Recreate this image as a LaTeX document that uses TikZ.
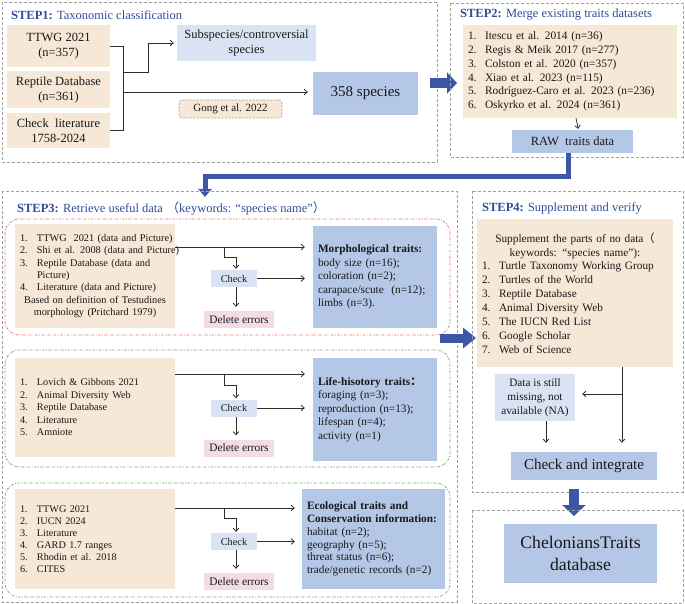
\documentclass[tikz,border=0pt]{standalone}
\usepackage{fontspec}
\setmainfont{Liberation Serif}
\newfontfamily\cjk{Noto Sans CJK SC}
\usetikzlibrary{arrows.meta}
\definecolor{beige}{RGB}{246,231,214}
\definecolor{lblue}{RGB}{218,227,243}
\definecolor{mblue}{RGB}{180,199,231}
\definecolor{pinkc}{RGB}{243,220,227}
\definecolor{dblue}{RGB}{59,87,166}
\definecolor{tblue}{RGB}{47,75,155}
\definecolor{framegray}{RGB}{160,160,160}
\definecolor{redd}{RGB}{226,112,82}
\definecolor{greend}{RGB}{104,164,96}
\definecolor{linec}{RGB}{45,45,45}
\definecolor{txt}{RGB}{25,25,25}
\newcommand\fs[2]{\fontsize{#1}{#2}\selectfont}
\newcommand\itm[2]{\mbox{\makebox[17pt][l]{#1}#2}}
\begin{document}
\begin{tikzpicture}[x=1pt,y=-1pt,
  frame/.style={draw=framegray,line width=0.8pt,dash pattern=on 3pt off 2pt},
  panelred/.style={draw=redd,line width=0.7pt,rounded corners=14pt,dash pattern=on 2.5pt off 1.5pt on 0.8pt off 1.5pt},
  panelgreen/.style={panelred,draw=greend},
  title/.style={anchor=west,inner sep=0pt,text=tblue,font=\fs{12.5}{15}},
  box/.style={inner sep=0pt,align=center,text=txt},
  listbox/.style={inner xsep=5pt,inner ysep=0pt,align=left,text=txt},
  ln/.style={draw=linec,line width=0.8pt},
  arr/.style={ln,-{Straight Barb[length=3pt,width=5.5pt]}},
  fat/.style={draw=dblue,line width=#1,line join=miter},
  chk/.style={box,fill=lblue,minimum width=46pt,minimum height=17pt,font=\fs{10.3}{12}},
  del/.style={box,fill=pinkc,minimum width=70pt,minimum height=17pt,font=\fs{11.4}{13}},
  trait/.style={listbox,fill=mblue,font=\fs{11.3}{13.5}}
]
\useasboundingbox (0,0) rectangle (685,604);

% ---------------- STEP1
\draw[frame] (2,2) rectangle (437,162);
\node[title] (t1) at (11,15) {\textbf{STEP1:} Taxonomic classification};
\node[box,fill=beige,minimum width=103pt,minimum height=42pt,font=\fs{12.5}{15}] (ttwg) at (58.5,46) {TTWG 2021\\(n=357)};
\node[box,fill=beige,minimum width=103pt,minimum height=37pt,font=\fs{12.5}{15}] (rdb) at (58.5,89.5) {Reptile Database\\(n=361)};
\node[box,fill=beige,minimum width=103pt,minimum height=35pt,font=\fs{12.5}{15}] (lit) at (58.5,130.5) {Check\ \ literature\\1758-2024};
\node[box,fill=lblue,minimum width=139pt,minimum height=36pt,font=\fs{12.5}{15}] (subsp) at (246.5,43) {Subspecies/controversial\\species};
\node[box,fill=mblue,minimum width=105pt,minimum height=43pt,font=\fs{15}{18}] (sp) at (365.5,93.5) {358 species};
\node[box,fill=beige,draw=framegray,line width=0.6pt,dash pattern=on 2pt off 1.5pt,rounded corners=3pt,minimum width=103pt,minimum height=18pt,font=\fs{11}{13}] (gong) at (230.5,109) {Gong et al. 2022};
\coordinate (j1) at (123,92);
\coordinate (j2) at (123,72);
\draw[ln] (ttwg.east) -- (ttwg.east -| j1) -- (lit.east -| j1) -- (lit.east);
\draw[arr,shorten >=5pt] (j1) -- (sp.west |- j1);
\draw[arr,shorten >=3pt] (j2) -- ++(25,0) |- (subsp.west);
\coordinate (f1a) at (430,83);
\coordinate (f1b) at (457,83);
\draw[fat=10pt,-{Triangle[length=10pt,width=21pt]}] (f1a) -- (f1b);

% ---------------- STEP2
\draw[frame] (450,3) rectangle (683,157);
\node[title] (t2) at (460,15) {\textbf{STEP2:} Merge existing traits datasets};
\node[listbox,fill=beige,text width=204pt,minimum height=93pt,font=\fs{11.4}{13.7}] (ds) at (570,71.5)
 {\itm{1.}{Itescu et al. 2014 (n=36)}\\
  \itm{2.}{Regis \& Meik 2017 (n=277)}\\
  \itm{3.}{Colston et al. 2020 (n=357)}\\
  \itm{4.}{Xiao et al. 2023 (n=115)}\\
  \itm{5.}{Rodríguez-Caro et al. 2023 (n=236)}\\
  \itm{6.}{Oskyrko et al. 2024 (n=361)}};
\node[box,fill=mblue,minimum width=121pt,minimum height=23pt,font=\fs{12.5}{15}] (raw) at (572.5,141.5) {RAW\ \ traits data};
\draw[arr,shorten >=1pt] ([xshift=6pt]ds.south) -- ([xshift=6pt]raw.north);
\coordinate (bend) at (205,177);
\draw[fat=5pt,-{Triangle[length=8pt,width=13pt]}] ([xshift=-4pt]raw.south) |- (bend) -- ++(0,20);

% ---------------- STEP3
\draw[frame] (2,191) rectangle (457,602);
\node[title] (t3) at (17,208) {\textbf{STEP3:} Retrieve useful data\hspace{0.3em}{\cjk （}keywords: “species name”{\cjk ）}};

% panel A
\draw[panelred] (5,219) rectangle (450,335);
\node[listbox,fill=beige,text width=150pt,minimum height=104pt,font=\fs{10.3}{12.3}] (la) at (95,276)
 {\itm{1.}{TTWG\ \ 2021 (data and Picture)}\\
  \itm{2.}{Shi et al. 2008 (data and Picture)}\\
  \itm{3.}{Reptile Database (data and}\\
  \itm{}{Picture)}\\
  \itm{4.}{Literature (data and Picture)}\\
  \makebox[150pt]{Based on definition of Testudines}\\
  \makebox[150pt]{morphology (Pritchard 1979)}};
\node[chk] (ca) at (234,278.5) {Check};
\node[del] (da) at (239,319.5) {Delete errors};
\node[trait,text width=114pt,minimum height=102pt] (ma) at (375,277)
 {\textbf{Morphological traits:}\\
  body size (n=16);\\
  coloration (n=2);\\
  \mbox{carapace/scute\ \ (n=12);}\\
  limbs (n=3).};
\coordinate (ba) at (224,247);
\draw[arr,shorten >=8pt] (la.east |- ba) -- (ma.west |- ba);
\draw[arr,shorten >=1pt] (ba) -- ++(0,10) -| ([xshift=2pt]ca.north);
\draw[arr,shorten >=8pt] (ca.east) -- (ca.east -| ma.west);
\draw[arr,shorten >=4pt] ([xshift=2pt]ca.south) -- ([xshift=2pt]ca.south |- da.north);

% panel B
\draw[panelgreen] (5,350) rectangle (450,467);
\node[listbox,fill=beige,text width=150pt,minimum height=99pt,font=\fs{10.2}{12.5}] (lb) at (95,407.5)
 {\itm{1.}{Lovich \& Gibbons 2021}\\
  \itm{2.}{Animal Diversity Web}\\
  \itm{3.}{Reptile Database}\\
  \itm{4.}{Literature}\\
  \itm{5.}{Amniote}};
\node[chk] (cb) at (234,408) {Check};
\node[del] (db) at (239,448) {Delete errors};
\node[trait,text width=114pt,minimum height=103pt] (mb) at (375,409.5)
 {\textbf{Life-hisotory traits{\cjk ：}}\\
  foraging (n=3);\\
  reproduction (n=13);\\
  lifespan (n=4);\\
  activity (n=1)};
\coordinate (bb) at (224,374);
\draw[arr,shorten >=8pt] (lb.east |- bb) -- (mb.west |- bb);
\draw[arr,shorten >=1pt] (bb) -- ++(0,11) -| ([xshift=2pt]cb.north);
\draw[arr,shorten >=8pt] (cb.east) -- (cb.east -| mb.west);
\draw[arr,shorten >=4pt] ([xshift=2pt]cb.south) -- ([xshift=2pt]cb.south |- db.north);

% panel C
\draw[panelgreen] (5,483) rectangle (450,597);
\node[listbox,fill=beige,text width=150pt,minimum height=100pt,font=\fs{10.2}{12}] (lc) at (95,539)
 {\itm{1.}{TTWG 2021}\\
  \itm{2.}{IUCN 2024}\\
  \itm{3.}{Literature}\\
  \itm{4.}{GARD 1.7 ranges}\\
  \itm{5.}{Rhodin et al. 2018}\\
  \itm{6.}{CITES}};
\node[chk] (cc) at (234,541.5) {Check};
\node[del] (dc) at (239,581.5) {Delete errors};
\node[trait,text width=133pt,minimum height=100pt,font=\fs{11.3}{12.8}] (mc) at (373.5,539)
 {\textbf{Ecological traits and}\\
  \textbf{Conservation information:}\\
  habitat (n=2);\\
  geography (n=5);\\
  threat status (n=6);\\
  trade/genetic records (n=2)};
\coordinate (bc) at (224,508);
\draw[arr,shorten >=7pt] (lc.east |- bc) -- (mc.west |- bc);
\draw[arr,shorten >=1pt] (bc) -- ++(0,10) -| ([xshift=2pt]cc.north);
\draw[arr,shorten >=7pt] (cc.east) -- (cc.east -| mc.west);
\draw[arr,shorten >=4pt] ([xshift=2pt]cc.south) -- ([xshift=2pt]cc.south |- dc.north);

\coordinate (f3a) at (440,338);
\coordinate (f3b) at (476,338);
\draw[fat=9pt,-{Triangle[length=13pt,width=20pt]}] (f3a) -- (f3b);

% ---------------- STEP4
\draw[frame] (472,191) rectangle (683,492);
\node[title] (t4) at (482,208) {\textbf{STEP4:} Supplement and verify};
\node[listbox,fill=beige,text width=186pt,minimum height=148pt,font=\fs{11.3}{13.9}] (sup) at (575,293)
 {\makebox[186pt]{Supplement the parts of no data{\cjk （}}\\
  \makebox[186pt]{keywords: “species name”):}\\
  \itm{1.}{Turtle Taxonomy Working Group}\\
  \itm{2.}{Turtles of the World}\\
  \itm{3.}{Reptile Database}\\
  \itm{4.}{Animal Diversity Web}\\
  \itm{5.}{The IUCN Red List}\\
  \itm{6.}{Google Scholar}\\
  \itm{7.}{Web of Science}};
\node[box,fill=lblue,minimum width=80pt,minimum height=47pt,font=\fs{11.3}{13.8}] (na) at (535,397.5) {Data is still\\missing, not\\available (NA)};
\node[box,fill=mblue,minimum width=146pt,minimum height=28pt,font=\fs{15}{18}] (ci) at (584,466) {Check and integrate};
\coordinate (s4) at (622,367);
\coordinate (s4b) at (622,394);
\draw[arr,shorten >=9pt] (s4) -- (s4 |- ci.north);
\draw[arr,shorten >=7pt] (s4b) -- (s4b -| na.east);
\draw[arr,shorten >=9pt] ([xshift=11pt]na.south) -- ([xshift=11pt]na.south |- ci.north);

\coordinate (f4a) at (574,489);
\coordinate (f4b) at (574,516);
\draw[fat=10pt,-{Triangle[length=11pt,width=23pt]}] (f4a) -- (f4b);

% ---------------- final
\draw[frame] (472,510) rectangle (683,603);
\node[box,fill=mblue,minimum width=153pt,minimum height=59pt,font=\fs{17.7}{22}] (db) at (580.5,553.5) {CheloniansTraits\\database};
\end{tikzpicture}
\end{document}
